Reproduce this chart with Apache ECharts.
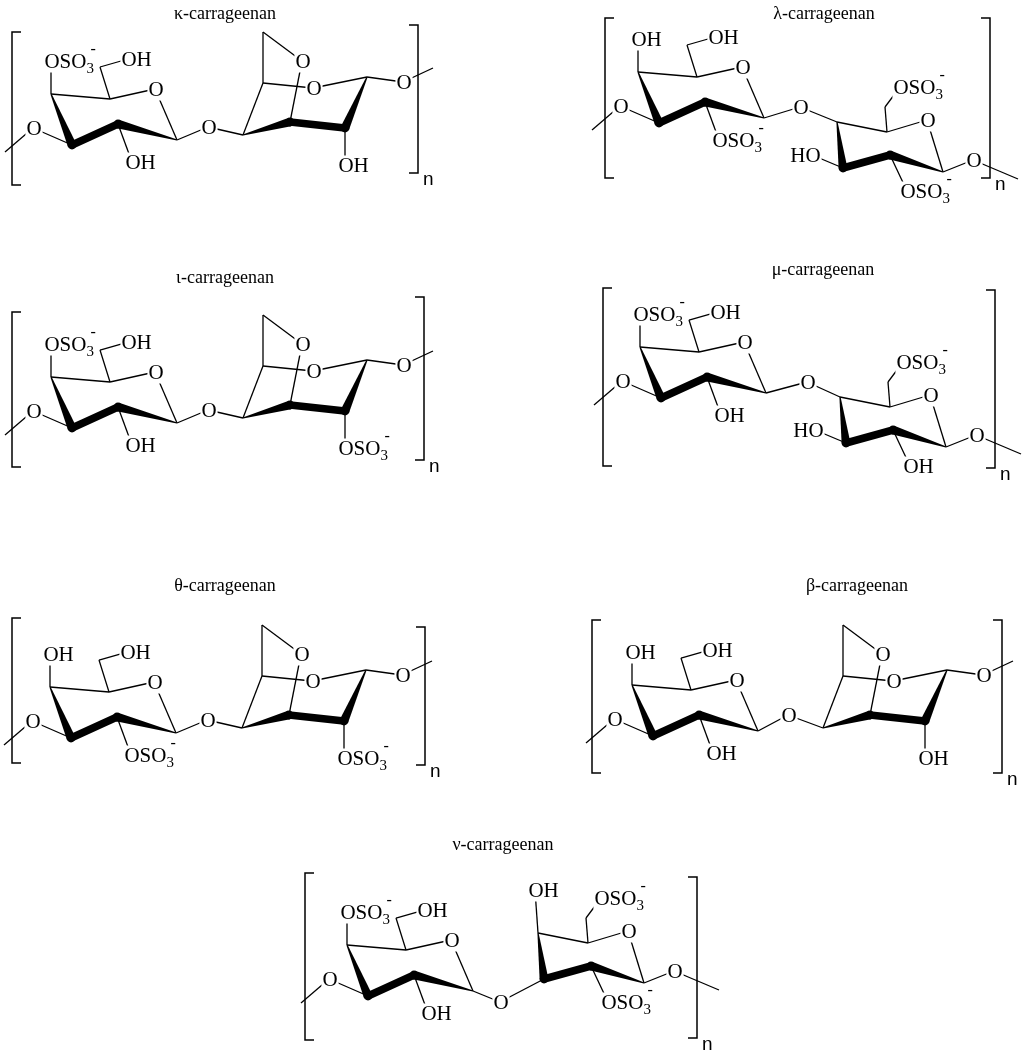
<!DOCTYPE html>
<html>
<head>
<meta charset="UTF-8">
<title>carrageenan</title>
<script src="https://cdn.jsdelivr.net/npm/echarts@6/dist/echarts.min.js"></script>
<style>html,body{margin:0;padding:0;background:#fff}#main{width:1024px;height:1055px}</style>
</head>
<body>
<div id="main"></div>
<script>
// names and where each structure sits
var titles = ['κ-carrageenan', 'λ-carrageenan', 'ι-carrageenan', 'μ-carrageenan', 'θ-carrageenan', 'β-carrageenan', 'ν-carrageenan'];
var titleXY = [[225, 14], [824, 14], [225, 278], [823, 270], [225, 586], [857, 586], [503, 845]];
var bracketL = [[12, 32, 185], [605, 18, 178], [12, 312, 467], [603, 288, 466], [12, 618, 763], [592, 620, 773], [305, 873, 1040]];
var bracketR = [[418, 25, 173], [990, 18, 178], [424, 297, 460], [995, 290, 468], [425, 627, 765], [1002, 620, 773], [697, 877, 1038]];

// first (galactose) ring: C4 position, C4 / C2 / C6 substituents
var firstRing = [
  [51, 94, 'OSO3-', 'OH', 'OH'],
  [638, 72, 'OH', 'OSO3-', 'OH'],
  [51, 377, 'OSO3-', 'OH', 'OH'],
  [640, 347, 'OSO3-', 'OH', 'OH'],
  [50, 687, 'OH', 'OSO3-', 'OH'],
  [632, 685, 'OH', 'OH', 'OH'],
  [347, 945, 'OSO3-', 'OH', 'OH']
];
var glycO = [[208, 127], [800, 107], [208, 410], [807, 382], [207, 720], [788, 715], [500, 1002]];
// second ring: type, anchor C4, C2 sub, C6 sub, linked carbon
var secondRing = [
  ['B', 243, 135, 'OH'],
  ['G', 837, 122, 'OSO3-', 'OSO3-', 'C4'],
  ['B', 243, 418, 'OSO3-'],
  ['G', 840, 397, 'OH', 'OSO3-', 'C4'],
  ['B', 242, 728, 'OSO3-'],
  ['B', 823, 728, 'OH'],
  ['G', 538, 933, 'OSO3-', 'OSO3-', 'C3']
];

var RING_A = {C4: [0, 0], C5: [59, 5], O: [104, -5], C1: [126, 46], C2: [67, 30], C3: [21, 51], C6: [49, -27], s6: [77, -35], s4: [0, -33], s2: [14, 38]};
var RING_G = {C4: [0, 0], C5: [50, 10], O: [90, -2], C1: [106, 50], C2: [53, 33], C3: [6, 46], C6: [48, -15], s6: [63, -35], s4: [-3, -43], s2: [17, 36], s3: [-31, -13], exitO: [136, 38], tail: [181, 57]};
var RING_B = {C4: [0, 0], C3: [47, -13], C2: [102, -7], C1: [124, -58], O: [70, -47], C5: [20, -52], top: [20, -103], bO: [59, -74], exitO: [160, -53], tail: [190, -67], s2: [102, 30]};

var FONT = '"Liberation Serif", "DejaVu Serif", serif';
var segs = [], atoms = [];
function add(p, r) { return [p[0] + r[0], p[1] + r[1]]; }
function seg(a, b, k) { segs.push([a[0], a[1], b[0], b[1], k]); }
function atom(p, t, m) { atoms.push([p[0], p[1], t, m || 'L']); }

function galRing(tpl, base, c4, c2, c6) {
  var q = function (k) { return add(base, tpl[k]); };
  seg(q('C4'), q('C5'), 0); seg(q('C5'), q('O'), 0); seg(q('O'), q('C1'), 0);
  seg(q('C1'), q('C2'), 1); seg(q('C2'), q('C3'), 2); seg(q('C4'), q('C3'), 1);
  atom(q('O'), 'O');
  seg(q('C5'), q('C6'), 0); seg(q('C6'), q('s6'), 0); atom(q('s6'), c6);
  if (c4) { seg(q('C4'), q('s4'), 0); atom(q('s4'), c4); }
  var s2 = add(q('C2'), tpl.s2); seg(q('C2'), s2, 0); atom(s2, c2);
  return q;
}

for (var i = 0; i < titles.length; i++) {
  var f = firstRing[i], base = [f[0], f[1]];
  var q = galRing(RING_A, base, f[2], f[3], f[4]);
  var o = add(base, [-18, 34]);
  seg(q('C3'), o, 0); atom(o, 'O'); seg(o, add(base, [-46, 58]), 0);
  var g = glycO[i];
  seg(q('C1'), g, 0); atom(g, 'O');
  var s = secondRing[i], b2 = [s[1], s[2]];
  if (s[0] === 'B') {
    var r = function (k) { return add(b2, RING_B[k]); };
    seg(g, r('C4'), 0);
    seg(r('C4'), r('C3'), 1); seg(r('C3'), r('C2'), 2); seg(r('C1'), r('C2'), 1);
    seg(r('C1'), r('O'), 0); seg(r('O'), r('C5'), 0); seg(r('C5'), r('C4'), 0);
    seg(r('C5'), r('top'), 0); seg(r('top'), r('bO'), 0); seg(r('bO'), r('C3'), 0);
    atom(r('O'), 'O'); atom(r('bO'), 'O');
    seg(r('C1'), r('exitO'), 0); atom(r('exitO'), 'O'); seg(r('exitO'), r('tail'), 0);
    seg(r('C2'), r('s2'), 0); atom(r('s2'), s[3]);
  } else {
    var linkC4 = s[5] === 'C4';
    var p = galRing(RING_G, b2, linkC4 ? null : 'OH', s[3], s[4]);
    if (linkC4) {
      seg(g, p('C4'), 0);
      var h = add(p('C3'), RING_G.s3); seg(p('C3'), h, 0); atom(h, 'HO', 'R');
    } else {
      seg(g, p('C3'), 0);
    }
    seg(p('C1'), p('exitO'), 0); atom(p('exitO'), 'O'); seg(p('exitO'), p('tail'), 0);
  }
}

var ctx = document.createElement('canvas').getContext('2d');
function tw(t, size) { ctx.font = size + 'px ' + FONT; return ctx.measureText(t).width; }

var chart = echarts.init(document.getElementById('main'));
var SZ = 21;
chart.setOption({
  animation: false,
  grid: {left: 0, right: 0, top: 0, bottom: 0},
  xAxis: {type: 'value', min: 0, max: 1024, show: false},
  yAxis: {type: 'value', min: 0, max: 1055, inverse: true, show: false},
  series: [
    {
      type: 'custom', data: segs, encode: {x: [0, 2], y: [1, 3]},
      renderItem: function (params, api) {
        var a = api.coord([api.value(0), api.value(1)]);
        var b = api.coord([api.value(2), api.value(3)]);
        var k = api.value(4);
        if (k === 0) {
          return {type: 'line', shape: {x1: a[0], y1: a[1], x2: b[0], y2: b[1]}, style: {stroke: '#000', lineWidth: 1.3}};
        }
        var dx = b[0] - a[0], dy = b[1] - a[1], L = Math.sqrt(dx * dx + dy * dy);
        var nx = -dy / L, ny = dx / L;
        var w1 = k === 1 ? 0.6 : 3.8, w2 = k === 1 ? 4.4 : 3.8;
        var kids = [{type: 'polygon', shape: {points: [
          [a[0] + nx * w1, a[1] + ny * w1], [b[0] + nx * w2, b[1] + ny * w2],
          [b[0] - nx * w2, b[1] - ny * w2], [a[0] - nx * w1, a[1] - ny * w1]]}, style: {fill: '#000'}},
          {type: 'circle', shape: {cx: b[0], cy: b[1], r: w2}, style: {fill: '#000'}}];
        if (k === 2) kids.push({type: 'circle', shape: {cx: a[0], cy: a[1], r: w1}, style: {fill: '#000'}});
        return {type: 'group', children: kids};
      }
    },
    {
      type: 'custom', data: atoms.map(function (d) { return [d[0], d[1]]; }), z: 5,
      renderItem: function (params, api) {
        var d = atoms[params.dataIndex];
        var c = api.coord([api.value(0), api.value(1)]);
        var t = d[2], sulf = t === 'OSO3-', main = sulf ? 'OSO' : t;
        var w = tw(main, SZ);
        var x0 = d[3] === 'L' ? c[0] - tw(main[0], SZ) / 2 : c[0] + tw(main[main.length - 1], SZ) / 2 - w;
        var kids = [{type: 'text', x: x0, y: c[1] + 1, style: {text: main, font: SZ + 'px ' + FONT, fill: '#000',
          align: 'left', verticalAlign: 'middle', backgroundColor: '#fff', padding: [0, 1]}}];
        if (sulf) {
          kids.push({type: 'text', x: x0 + w + 1, y: c[1] + 8, style: {text: '3', font: '15px ' + FONT, fill: '#000', align: 'left', verticalAlign: 'middle'}});
          kids.push({type: 'text', x: x0 + w + 5, y: c[1] - 11, style: {text: '-', font: '16px ' + FONT, fill: '#000', align: 'left', verticalAlign: 'middle'}});
        }
        return {type: 'group', children: kids};
      }
    },
    {
      type: 'custom', data: titleXY,
      renderItem: function (params, api) {
        var c = api.coord([api.value(0), api.value(1)]);
        return {type: 'text', x: c[0], y: c[1], style: {text: titles[params.dataIndex], font: '18px ' + FONT, fill: '#000', align: 'center', verticalAlign: 'middle'}};
      }
    },
    {
      type: 'custom', data: bracketL.concat(bracketR).map(function (d, j) { return [d[0], d[1], d[2], j < bracketL.length ? 1 : -1]; }),
      encode: {x: 0, y: [1, 2]},
      renderItem: function (params, api) {
        var dir = api.value(3);
        var a = api.coord([api.value(0), api.value(1)]), b = api.coord([api.value(0), api.value(2)]);
        var kids = [{type: 'polyline', shape: {points: [[a[0] + 9 * dir, a[1]], a, b, [b[0] + 9 * dir, b[1]]]}, style: {stroke: '#000', lineWidth: 1.5, fill: null}}];
        if (dir < 0) kids.push({type: 'text', x: b[0] + 5, y: b[1] + 7, style: {text: 'n', font: '19px "Liberation Sans", sans-serif', fill: '#000', align: 'left', verticalAlign: 'middle'}});
        return {type: 'group', children: kids};
      }
    }
  ]
});
</script>
</body>
</html>
